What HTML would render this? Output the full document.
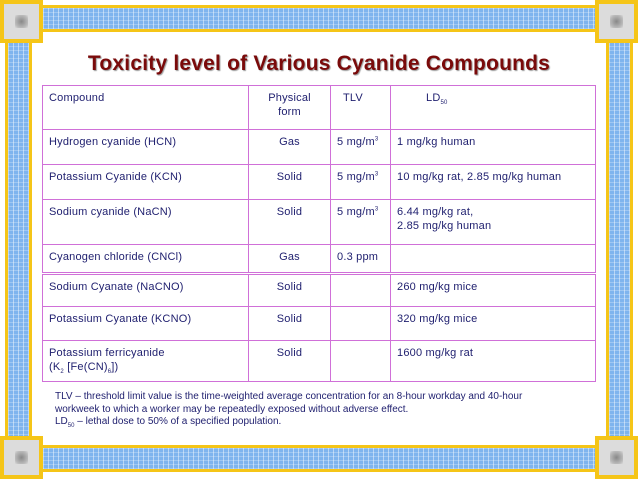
<!DOCTYPE html>
<html><head><meta charset="utf-8"><style>
body{margin:0;width:638px;height:479px;position:relative;background:#fff;overflow:hidden;font-family:"Liberation Sans",sans-serif}
.band{position:absolute;box-sizing:border-box;border:3px solid #f5c518;background-color:#7fb4ee;
background-image:repeating-linear-gradient(90deg,rgba(255,255,255,.45) 0 1px,transparent 1px 5px),repeating-linear-gradient(0deg,rgba(255,255,255,.25) 0 1px,transparent 1px 4px)}
.corner{position:absolute;width:43px;height:43px;box-sizing:border-box;border:4px solid #f5c518;background:#dcdcdc}
.corner::after{content:"";position:absolute;left:11px;top:11px;width:13px;height:13px;background:radial-gradient(#888,#bbb 70%,#dcdcdc);}
.title{position:absolute;left:0;width:638px;top:52px;text-align:center;font-weight:bold;font-size:21px;letter-spacing:0.2px;color:#7a0a0a;text-shadow:1px 1px 1px #999}
table{position:absolute;left:42px;top:85px;border-collapse:collapse;color:#1e1e6e;font-size:11px;letter-spacing:0.2px}
td{border:1px solid #d070d8;vertical-align:top;padding:5px 6px 0 6px;box-sizing:border-box;line-height:14px}
.c{text-align:center}
sub,sup{font-size:6px;line-height:0}
.note{position:absolute;left:55px;top:391px;font-size:10px;color:#1e1e6e;line-height:12.5px}
</style></head><body>
<div class="band" style="left:30px;top:5px;width:578px;height:27px"></div>
<div class="band" style="left:30px;top:445px;width:578px;height:27px"></div>
<div class="band" style="left:5px;top:30px;width:27px;height:420px"></div>
<div class="band" style="left:606px;top:30px;width:27px;height:420px"></div>
<div class="corner" style="left:0;top:0"></div>
<div class="corner" style="left:595px;top:0"></div>
<div class="corner" style="left:0;top:436px"></div>
<div class="corner" style="left:595px;top:436px"></div>
<div class="title">Toxicity level of Various Cyanide Compounds</div>
<table>
<colgroup><col style="width:206px"><col style="width:82px"><col style="width:60px"><col style="width:205px"></colgroup>
<tr style="height:44px"><td>Compound</td><td class="c">Physical<br>form</td><td style="padding-left:12px">TLV</td><td style="padding-left:35px">LD<sub>50</sub></td></tr>
<tr style="height:35px"><td>Hydrogen cyanide (HCN)</td><td class="c">Gas</td><td>5 mg/m<sup>3</sup></td><td>1 mg/kg human</td></tr>
<tr style="height:35px"><td>Potassium Cyanide (KCN)</td><td class="c">Solid</td><td>5 mg/m<sup>3</sup></td><td>10 mg/kg rat, 2.85 mg/kg human</td></tr>
<tr style="height:45px"><td>Sodium cyanide (NaCN)</td><td class="c">Solid</td><td>5 mg/m<sup>3</sup></td><td>6.44 mg/kg rat,<br>2.85 mg/kg human</td></tr>
<tr style="height:29px;border-bottom:3px double #d070d8"><td>Cyanogen chloride (CNCl)</td><td class="c">Gas</td><td>0.3 ppm</td><td></td></tr>
<tr style="height:33px"><td>Sodium Cyanate (NaCNO)</td><td class="c">Solid</td><td></td><td>260 mg/kg mice</td></tr>
<tr style="height:34px"><td>Potassium Cyanate (KCNO)</td><td class="c">Solid</td><td></td><td>320 mg/kg mice</td></tr>
<tr style="height:41px"><td>Potassium ferricyanide<br>(K<sub>2</sub> [Fe(CN)<sub>6</sub>])</td><td class="c">Solid</td><td></td><td>1600 mg/kg rat</td></tr>
</table>
<div class="note">TLV – threshold limit value is the time-weighted average concentration for an 8-hour workday and 40-hour<br>workweek to which a worker may be repeatedly exposed without adverse effect.<br>LD<sub>50</sub> – lethal dose to 50% of a specified population.</div>
</body></html>
